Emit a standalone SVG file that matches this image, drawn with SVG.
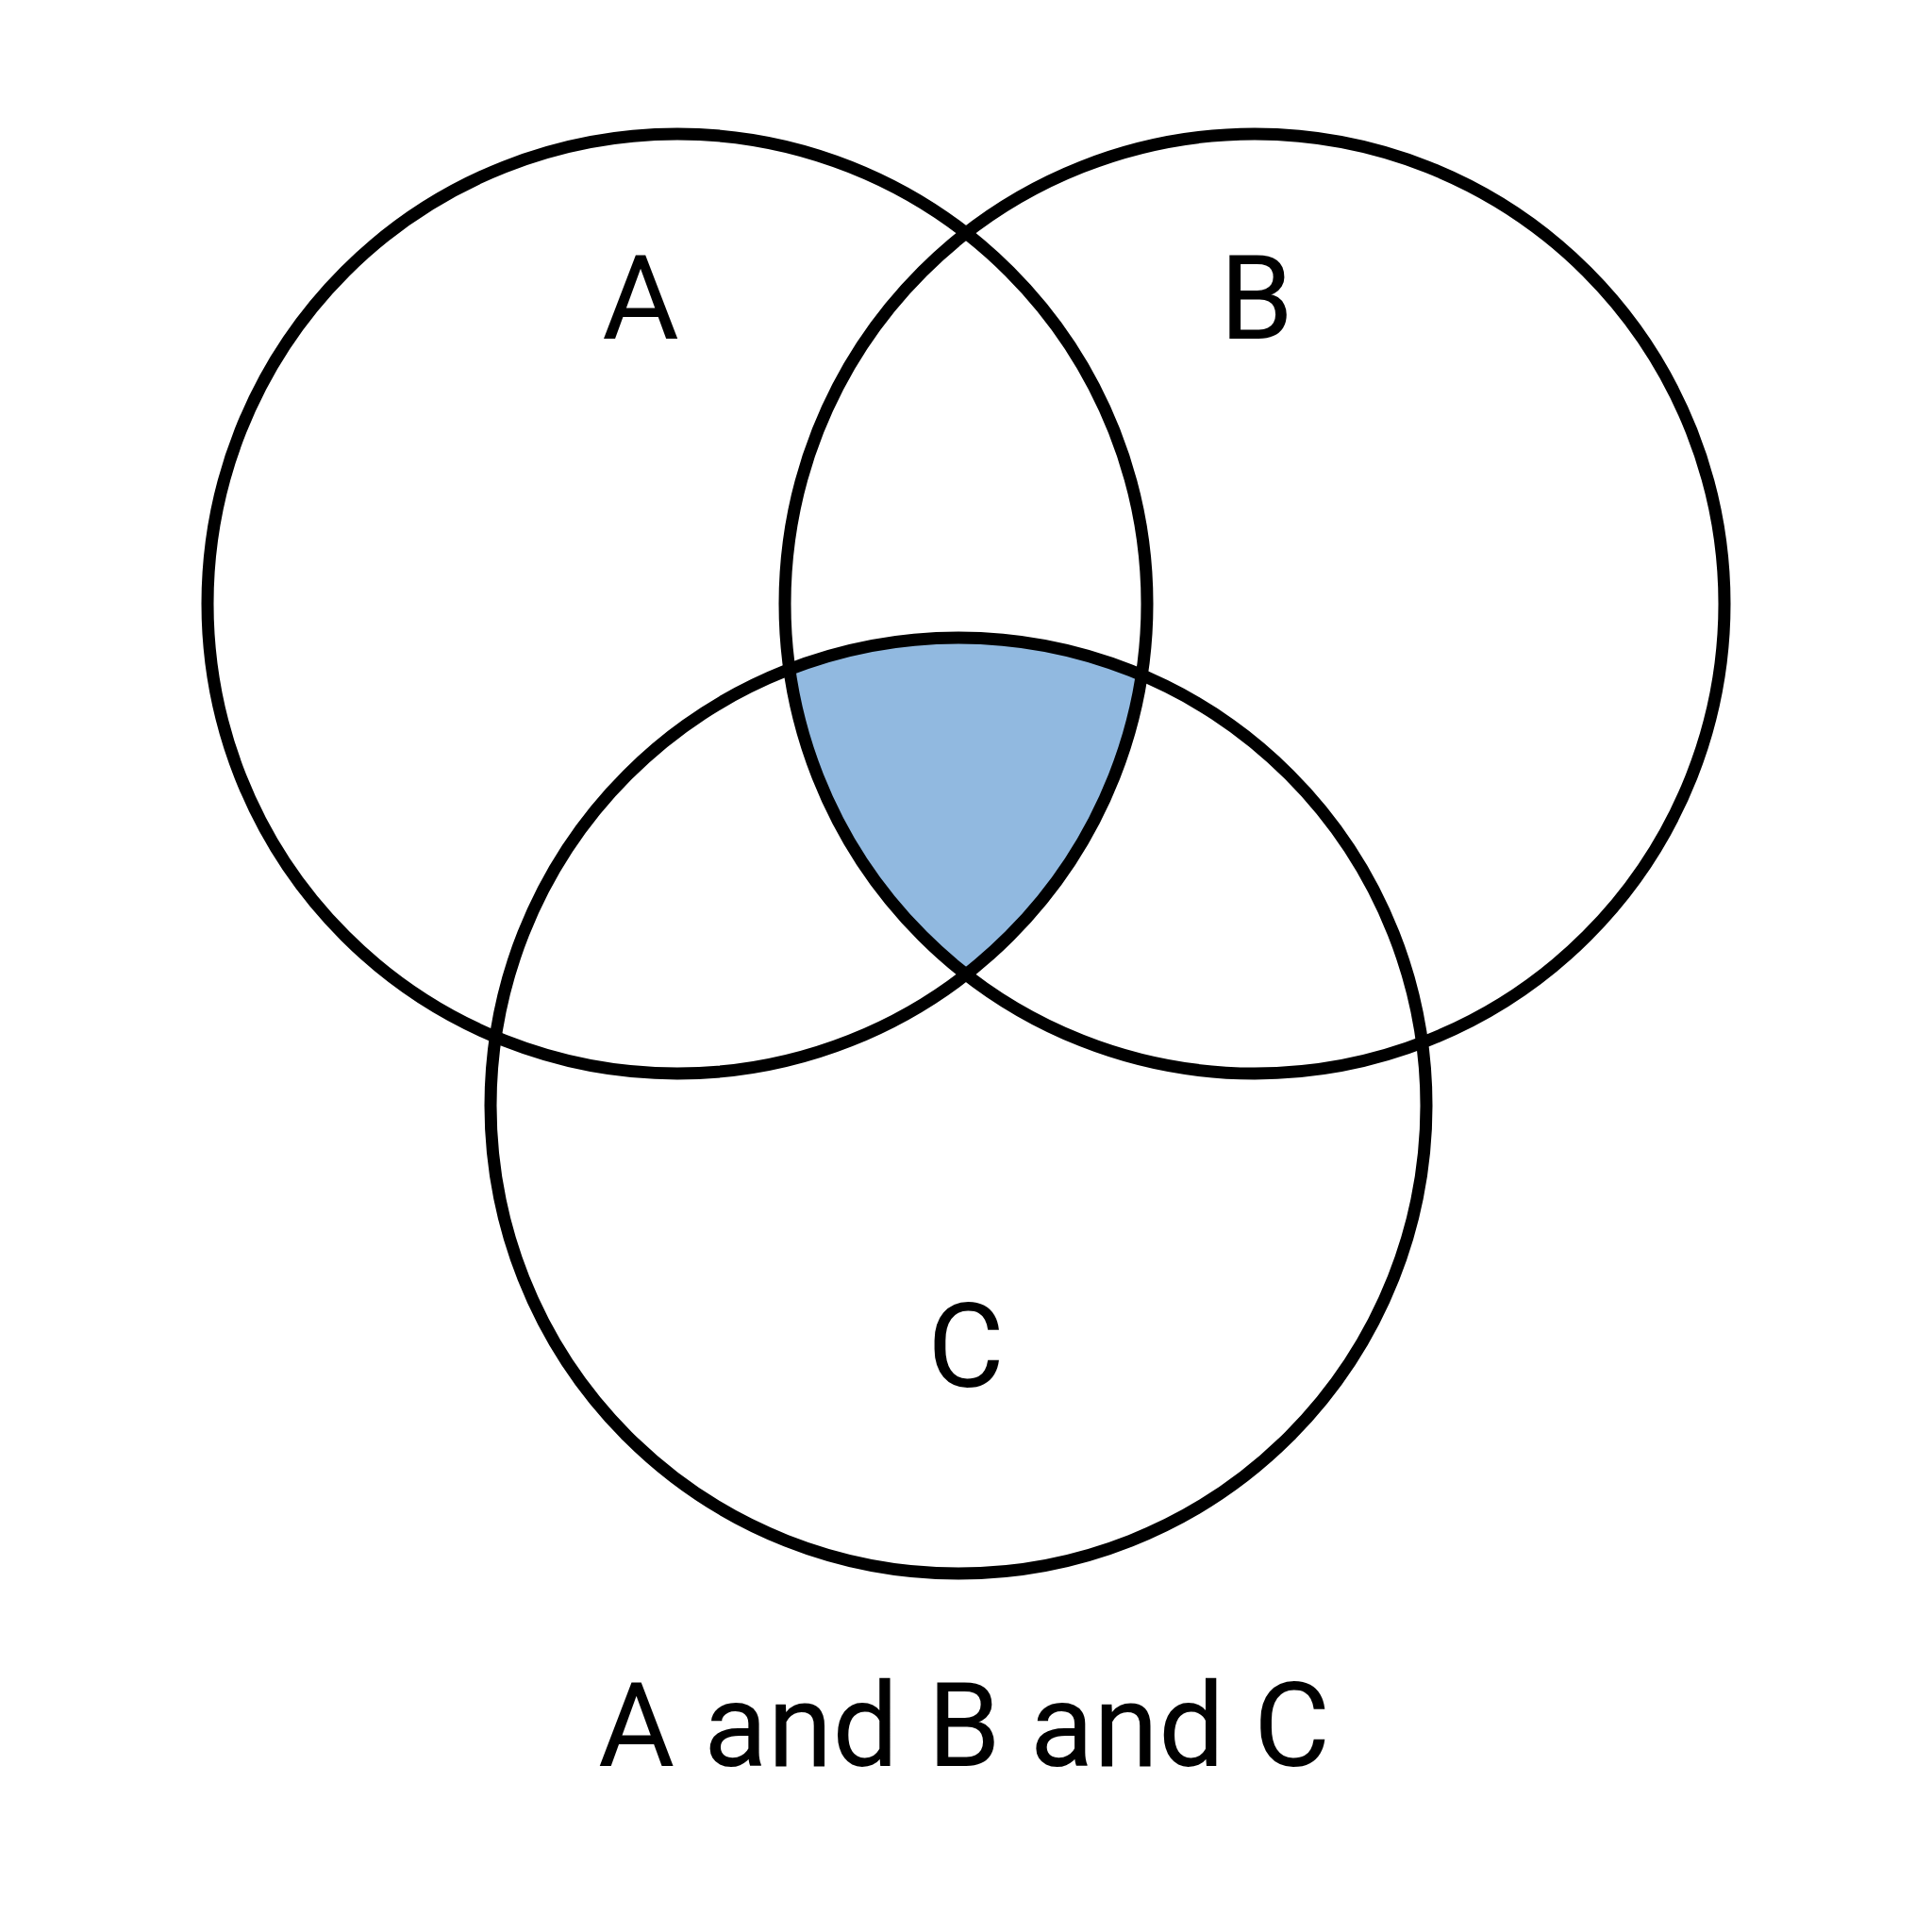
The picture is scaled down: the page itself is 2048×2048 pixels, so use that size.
<svg xmlns="http://www.w3.org/2000/svg" width="2048" height="2048" viewBox="0 0 2048 2048">
  <style>
    .ring { fill: none; stroke: #000; stroke-width: 13; }
    .lbl { font-family: Roboto, "Liberation Sans", sans-serif; font-weight: 400; font-size: 125px; fill: #000; text-anchor: middle; }
  </style>
  <defs>
    <clipPath id="clipA"><circle cx="718" cy="640" r="498"/></clipPath>
    <clipPath id="clipB"><circle cx="1330" cy="640" r="498"/></clipPath>
  </defs>
  <rect width="2048" height="2048" fill="#fff"/>
  <g id="intersection">
    <g clip-path="url(#clipA)">
      <g clip-path="url(#clipB)">
        <circle cx="1016" cy="1172" r="496" fill="#91b9e0"/>
      </g>
    </g>
  </g>
  <g id="setA">
    <circle class="ring" cx="718" cy="640" r="498"/>
    <text class="lbl" x="679" y="359">A</text>
  </g>
  <g id="setB">
    <circle class="ring" cx="1330" cy="640" r="498"/>
    <text class="lbl" x="1332" y="359">B</text>
  </g>
  <g id="setC">
    <circle class="ring" cx="1016" cy="1172" r="496"/>
    <text class="lbl" x="1024" y="1470">C</text>
  </g>
  <g id="caption">
    <text class="lbl" x="634" y="1872" style="text-anchor:start" textLength="776" lengthAdjust="spacingAndGlyphs">A and B and C</text>
  </g>
</svg>
